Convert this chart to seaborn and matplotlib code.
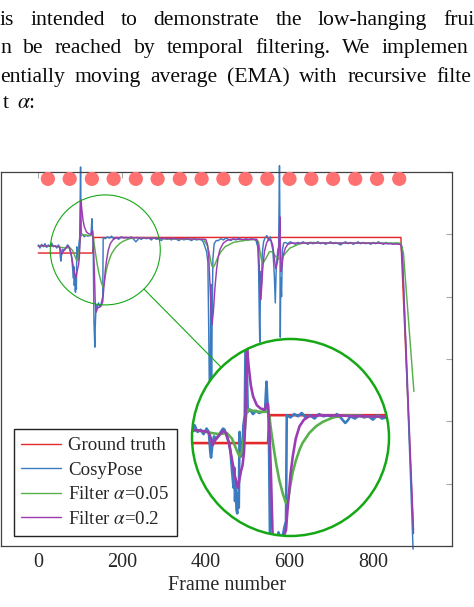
import numpy as np
import pandas as pd
import seaborn as sns
import matplotlib.pyplot as plt
from matplotlib.patches import Circle, Ellipse
from matplotlib.lines import Line2D

# values: frame number -> value (arbitrary y units, ticks 0..6)
gt_frame = [0, 130, 132, 866, 868, 896]
gt_val = [4.70, 4.70, 4.95, 4.95, 4.60, 0.20]

cosy_frame = [0, 4, 8, 12, 16, 20, 24, 28, 32, 36, 40, 44, 48, 51, 53, 54, 56, 58, 61, 64, 67,
              70, 72, 75, 78, 80, 82, 84, 85, 86, 87, 88, 89, 90, 91, 92, 93, 94, 96, 97, 99,
              100, 101, 102, 103, 106, 110, 114, 118, 122, 126, 128, 129, 131, 133, 135, 136,
              138, 141, 144, 147, 150, 152, 154, 155, 160, 165, 170, 175, 180, 186, 192, 198,
              204, 210, 216, 222, 228, 233, 236, 240, 246, 252, 258, 264, 270, 276, 282, 288,
              294, 300, 306, 312, 318, 324, 330, 336, 342, 348, 354, 360, 366, 372, 378, 384,
              390, 394, 398, 402, 405, 407, 409, 411, 412, 413, 414, 415, 417, 420, 425, 430,
              436, 442, 448, 454, 460, 466, 472, 478, 484, 490, 496, 502, 508, 514, 520, 524,
              526, 528, 529, 530, 531, 533, 535, 538, 542, 546, 550, 554, 557, 560, 562, 564,
              566, 568, 570, 572, 574, 576, 577, 578, 579, 581, 583, 586, 590, 596, 602, 608,
              614, 620, 626, 632, 638, 644, 650, 656, 662, 668, 674, 680, 686, 692, 698, 704,
              710, 716, 722, 728, 734, 740, 746, 752, 758, 764, 770, 776, 782, 788, 794, 800,
              806, 812, 818, 824, 830, 836, 842, 848, 854, 860, 866, 869, 882, 895]
cosy_val = [4.83, 4.78, 4.84, 4.80, 4.85, 4.79, 4.83, 4.81, 4.86, 4.80, 4.82, 4.78, 4.83, 4.80,
            4.62, 4.57, 4.70, 4.76, 4.74, 4.77, 4.80, 4.83, 4.82, 4.76, 4.70, 4.62, 4.45, 4.30,
            4.48, 4.18, 4.35, 4.10, 4.07, 4.25, 4.12, 4.80, 4.70, 4.58, 4.62, 4.85, 4.95, 5.60,
            6.08, 5.30, 4.98, 5.00, 4.96, 4.99, 4.97, 4.98, 4.99, 5.25, 5.10, 4.90, 3.60, 3.19,
            3.50, 3.87, 3.82, 3.90, 3.84, 3.88, 3.95, 4.00, 4.95, 4.93, 4.96, 4.94, 4.97, 4.93,
            4.95, 4.92, 4.96, 4.94, 4.95, 4.93, 4.96, 4.92, 4.88, 4.90, 4.94, 4.92, 4.95, 4.93,
            4.94, 4.91, 4.95, 4.92, 4.93, 4.90, 4.94, 4.92, 4.93, 4.91, 4.94, 4.92, 4.90, 4.93,
            4.91, 4.94, 4.92, 4.90, 4.93, 4.91, 4.92, 4.91, 4.88, 4.80, 4.72, 4.55, 3.50, 2.20,
            3.00, 4.20, 3.20, 2.10, 3.50, 4.60, 4.85, 4.90, 4.90, 4.93, 4.91, 4.94, 4.92, 4.90,
            4.93, 4.91, 4.94, 4.92, 4.90, 4.93, 4.91, 4.93, 4.92, 4.90, 4.80, 4.50, 3.60, 3.27,
            3.90, 4.40, 4.20, 4.70, 4.88, 4.95, 4.98, 4.90, 4.96, 4.85, 4.75, 4.55, 4.30, 3.90,
            4.40, 4.60, 4.75, 4.80, 6.10, 5.20, 3.35, 4.30, 4.00, 4.75, 4.86, 4.87, 4.85, 4.88,
            4.86, 4.84, 4.87, 4.85, 4.88, 4.86, 4.84, 4.87, 4.85, 4.86, 4.88, 4.85, 4.87, 4.84,
            4.86, 4.88, 4.85, 4.87, 4.85, 4.83, 4.86, 4.88, 4.85, 4.87, 4.84, 4.86, 4.88, 4.85,
            4.87, 4.85, 4.86, 4.84, 4.87, 4.85, 4.88, 4.86, 4.84, 4.87, 4.85, 4.86, 4.84, 4.86,
            4.85, 4.83, 4.80, 2.40, -0.05]

f005_frame = [0, 20, 40, 55, 65, 75, 82, 88, 92, 95, 98, 101, 104, 110, 120, 130, 132, 134,
              137, 141, 145, 150, 154, 157, 160, 163, 167, 172, 176, 185, 194, 203, 217, 235,
              260, 300, 350, 395, 405, 410, 414, 418, 422, 428, 436, 446, 466, 490, 520, 526,
              530, 534, 538, 544, 552, 560, 566, 572, 577, 580, 588, 601, 625, 650, 700, 750,
              800, 866, 872, 884, 897]
f005_val = [4.81, 4.81, 4.81, 4.79, 4.78, 4.79, 4.74, 4.64, 4.58, 4.62, 4.75, 4.96, 5.00, 4.99,
            4.98, 4.98, 4.93, 4.82, 4.68, 4.51, 4.37, 4.24, 4.16, 4.20, 4.33, 4.44, 4.54, 4.64,
            4.70, 4.79, 4.85, 4.89, 4.93, 4.95, 4.94, 4.93, 4.92, 4.92, 4.80, 4.64, 4.50, 4.47,
            4.52, 4.62, 4.72, 4.80, 4.87, 4.90, 4.92, 4.88, 4.70, 4.56, 4.55, 4.62, 4.72, 4.72,
            4.65, 4.60, 4.62, 4.60, 4.68, 4.78, 4.85, 4.87, 4.86, 4.86, 4.86, 4.86, 4.70, 3.63,
            2.48]

f02_frame = [0, 10, 20, 30, 40, 50, 53, 56, 60, 65, 70, 74, 78, 82, 86, 90, 92, 94, 96, 98,
             100, 101, 102, 104, 107, 110, 115, 120, 126, 128, 130, 132, 134, 136, 138, 142,
             146, 150, 154, 156, 158, 160, 163, 167, 172, 178, 185, 200, 260, 330, 400, 404,
             407, 410, 413, 415, 418, 422, 426, 430, 434, 442, 450, 460, 522, 526, 529, 531,
             533, 536, 540, 545, 550, 556, 560, 563, 567, 571, 574, 576, 577, 578, 580, 582,
             585, 590, 596, 605, 700, 800, 866, 870, 896]
f02_val = [4.81, 4.82, 4.81, 4.82, 4.81, 4.80, 4.76, 4.68, 4.73, 4.77, 4.81, 4.79, 4.70, 4.55,
           4.40, 4.30, 4.38, 4.45, 4.50, 4.62, 4.95, 5.35, 5.55, 5.40, 5.22, 5.12, 5.04, 5.01,
           5.00, 5.05, 5.05, 4.80, 4.40, 3.90, 3.75, 3.82, 3.83, 3.85, 3.92, 4.10, 4.25, 4.42,
           4.58, 4.74, 4.85, 4.91, 4.94, 4.95, 4.94, 4.93, 4.92, 4.84, 4.65, 4.20, 3.70, 3.55,
           3.75, 4.15, 4.45, 4.65, 4.76, 4.86, 4.90, 4.92, 4.92, 4.80, 4.25, 3.95, 4.10, 4.45,
           4.72, 4.86, 4.92, 4.90, 4.82, 4.65, 4.45, 4.55, 4.72, 5.05, 5.28, 4.85, 4.40, 4.50,
           4.66, 4.78, 4.84, 4.86, 4.86, 4.86, 4.84, 4.55, 0.25]

marker_frame = [23, 75, 128, 180, 233, 285, 338, 390, 442, 495, 547, 600, 652, 704, 757, 809, 862]
marker_val = [5.89] * 17

x_ticks = [0, 200, 400, 600, 800]
series_names = ['Ground truth', 'CosyPose', r'Filter $\alpha$=0.05', r'Filter $\alpha$=0.2']

# paper text above the chart: justified lines cut by the crop at both sides
text_lines = [
    ['is', 'intended', 'to', 'demonstrate', 'the', 'low-hanging', 'frui'],
    ['n', 'be', 'reached', 'by', 'temporal', 'filtering.', 'We', 'implemen'],
    ['entially', 'moving', 'average', '(EMA)', 'with', 'recursive', 'filte'],
    ['t', r'$\alpha$:'],
]
text_first_x = [0, 0, 0, 3]
text_last_x = [443, 382, 436, 17]
text_base = [25, 53, 82, 108]

colors = ['#e3292c', '#3b7cc0', '#58b04c', '#9a3db2']
spy_green = '#14a814'
W, H = 474, 607

sns.set_style('white')
plt.rcParams['font.family'] = ['Liberation Serif', 'DejaVu Serif']
plt.rcParams['mathtext.fontset'] = 'stix'

fig = plt.figure(figsize=(W / 100, H / 100), dpi=100)

# main axes, pixel box: x 1..452, y 172..546
ax = fig.add_axes([1 / W, (H - 546) / H, 451 / W, 374 / H])
ax.set_xlim(-89, 988)
ax.set_ylim(0, 6)

series = [(gt_frame, gt_val), (cosy_frame, cosy_val), (f005_frame, f005_val), (f02_frame, f02_val)]


def draw_series(a, lw):
    for (fr, v), c in zip(series, colors):
        sns.lineplot(x=fr, y=v, ax=a, color=c, lw=lw, sort=False, estimator=None, legend=False)


draw_series(ax, 1.05)
for ln in ax.lines:
    ln.set_clip_on(False)

ax.scatter(marker_frame, marker_val, s=105, color='#ff7070', edgecolor='none', zorder=3)

ax.set_xticks(x_ticks)
ax.set_yticks(range(0, 7))
ax.tick_params(direction='in', length=4.5, width=0.8, color='#a8a8a8', top=True, right=True,
               labelleft=False, labelsize=14.5, pad=5)
for sp in ax.spines.values():
    sp.set_color('#404040')
    sp.set_linewidth(0.9)
ax.set_xlabel('Frame number', fontsize=14.5, labelpad=3)

handles = [Line2D([], [], color=c, lw=1.0) for c in colors]
leg = ax.legend(handles, series_names, loc='lower left', bbox_to_anchor=(0.028, 0.028),
                fontsize=13.6, frameon=True, fancybox=False, framealpha=1, edgecolor='#222222',
                handlelength=2.1, handletextpad=0.4, labelspacing=0.39, borderpad=0.4,
                borderaxespad=0)
leg.get_frame().set_linewidth(1.0)

# spy: small lens on the main plot, magnified copy in a big circle
mag = 1.79
px_x = 451 / (988 + 89)
px_y = 374 / 6
lens_c = (160, 4.75)
r_small, r_big = 55, 98.5
big_cx, big_cy = 290.5, 437.5

ax.add_patch(Ellipse(lens_c, 2 * r_small / px_x, 2 * r_small / px_y, fill=False,
                     edgecolor=spy_green, lw=0.8, zorder=4, clip_on=False))

ax_in = fig.add_axes([(big_cx - r_big) / W, (H - big_cy - r_big) / H, 2 * r_big / W, 2 * r_big / H])
half_x = r_big / mag / px_x
half_y = r_big / mag / px_y
ax_in.set_xlim(lens_c[0] - half_x, lens_c[0] + half_x)
ax_in.set_ylim(lens_c[1] - half_y, lens_c[1] + half_y)
ax_in.set_axis_off()
ax_in.add_patch(Circle((0.5, 0.5), 0.5, transform=ax_in.transAxes, facecolor='white',
                       edgecolor='none', zorder=0))
draw_series(ax_in, 1.05 * mag)
clip = Circle((0.5, 0.5), 0.5, transform=ax_in.transAxes)
for ln in ax_in.lines:
    ln.set_clip_path(clip)
ax_in.add_patch(Circle((0.5, 0.5), 0.5, transform=ax_in.transAxes, fill=False,
                       edgecolor=spy_green, lw=1.8, zorder=5, clip_on=False))

# connector between the two circles (pixel geometry)
sx = 38.3 + lens_c[0] * px_x
sy = 546 - lens_c[1] * px_y
d = np.hypot(big_cx - sx, big_cy - sy)
ux, uy = (big_cx - sx) / d, (big_cy - sy) / d
x0, y0 = sx + r_small * ux, sy + r_small * uy
x1, y1 = big_cx - r_big * ux, big_cy - r_big * uy
fig.add_artist(Line2D([x0 / W, x1 / W], [1 - y0 / H, 1 - y1 / H], transform=fig.transFigure,
                      color=spy_green, lw=0.8))

# justified text: equal gaps between the first and last word of each line
renderer = fig.canvas.get_renderer()
for words, xa, xb, yb in zip(text_lines, text_first_x, text_last_x, text_base):
    items = [fig.text(0, 1 - yb / H, wd, fontsize=15.6, va='baseline', ha='left', color='#0a0a0a')
             for wd in words]
    widths = [t.get_window_extent(renderer).width for t in items]
    gap = (xb - xa - sum(widths[:-1])) / (len(words) - 1)
    xp = xa
    for t, w in zip(items, widths):
        t.set_x(xp / W)
        xp += w + gap

fig.savefig('out.png', dpi=100)
